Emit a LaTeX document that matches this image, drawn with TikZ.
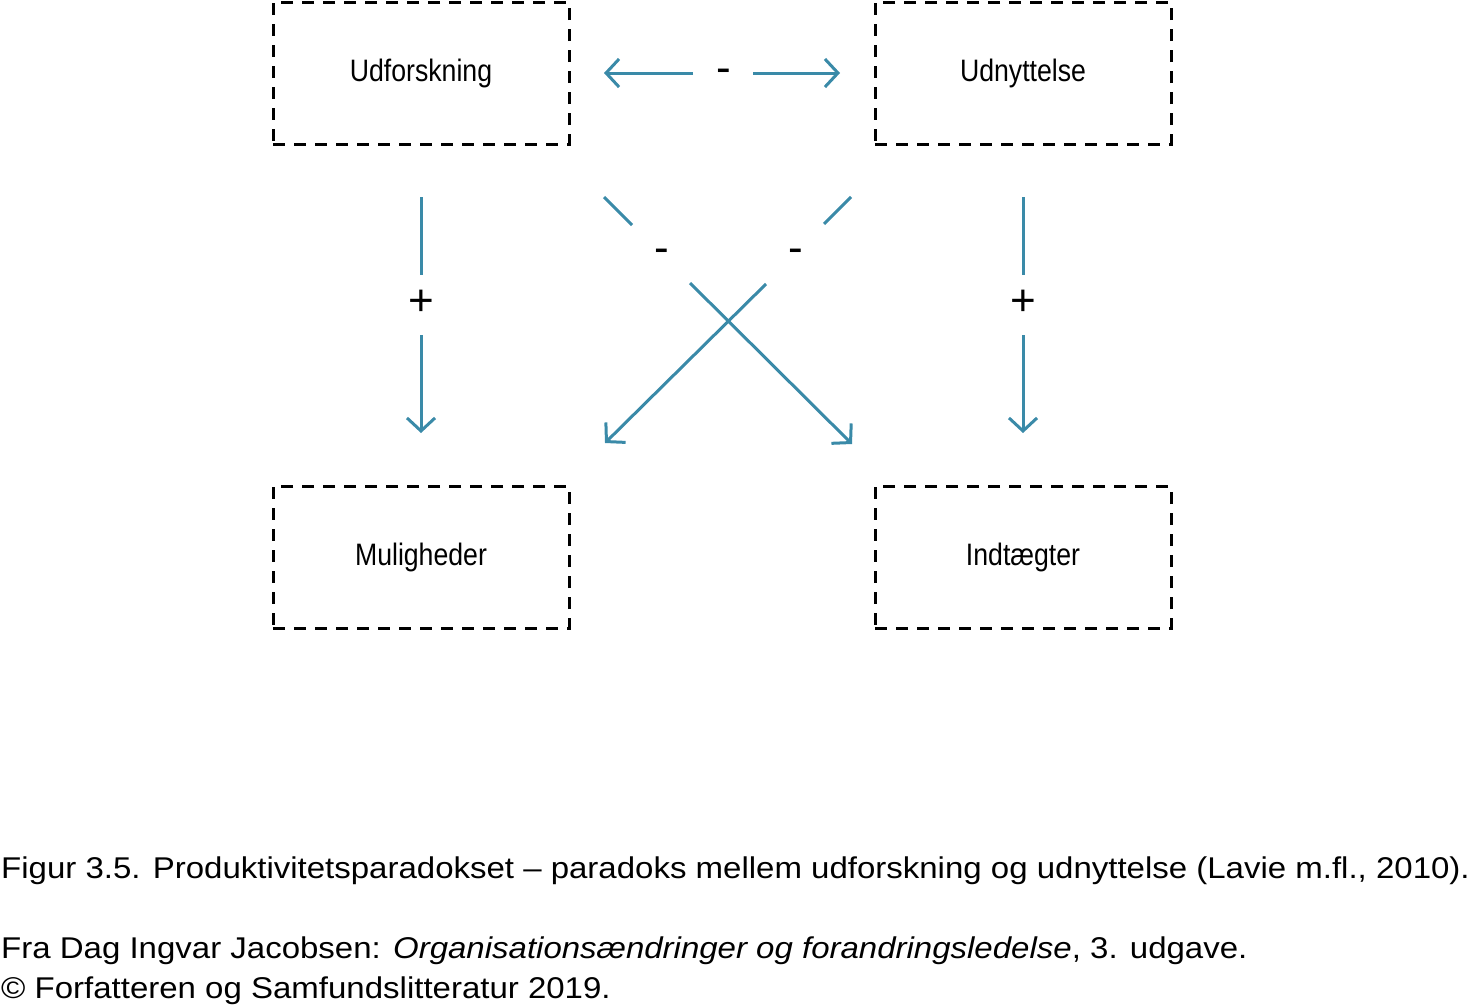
\documentclass[tikz,border=0pt]{standalone}
\usepackage{fontspec}
\setmainfont{Liberation Sans}
\newfontfamily\narrowf[FakeStretch=0.86]{Liberation Sans}
\newfontfamily\widef[FakeStretch=1.1]{Liberation Sans}
\usetikzlibrary{arrows.meta}
\definecolor{teal1}{RGB}{58,138,168}
\begin{document}
\begin{tikzpicture}[x=1pt,y=-1pt,
 box/.style={draw=black,line width=3pt,dash pattern=on 12pt off 9pt,minimum width=296pt,minimum height=142pt,font=\narrowf\fontsize{31}{34}\selectfont,inner sep=0pt},
 con/.style={draw=teal1,line width=3pt},
 arr/.style={con,-{Straight Barb[length=13pt,width=28pt,line width=3pt]}},
 lab/.style={font=\fontsize{44}{46}\selectfont,inner sep=0pt},
 captxt/.style={anchor=base west,inner sep=0pt,font=\widef\fontsize{30}{34}\selectfont}]
\useasboundingbox (0,0) rectangle (1472,1007);
\node[box] (ud) at (421,73) {Udforskning};
\node[box] (un) at (1023,73) {Udnyttelse};
\node[box] (mu) at (421,557) {Muligheder};
\node[box] (in) at (1023,557) {Indtægter};
% horizontal
\node[lab] (h) at (724,76) {-};
\coordinate (h1) at (693,73); \coordinate (h2) at (753,73);
\coordinate (hl) at (604,73); \coordinate (hr) at (840,73);
\draw[arr] (h1) -- (hl);
\draw[arr] (h2) -- (hr);
% verticals
\node[lab] (p1) at (421,303) {+};
\node[lab] (p2) at (1023,303) {+};
\coordinate (a1) at (421,197); \coordinate (a2) at (421,275);
\coordinate (a3) at (421,335); \coordinate (a4) at (421,433);
\draw[con] (a1) -- (a2); \draw[arr] (a3) -- (a4);
\coordinate (b1) at (1023,197); \coordinate (b2) at (1023,275);
\coordinate (b3) at (1023,335); \coordinate (b4) at (1023,433);
\draw[con] (b1) -- (b2); \draw[arr] (b3) -- (b4);
% diagonals
\node[lab] (m1) at (662,256) {-};
\node[lab] (m2) at (796,256) {-};
\coordinate (c1) at (604,197); \coordinate (c2) at (632,225);
\coordinate (c3) at (690,283); \coordinate (c4) at (852,444);
\draw[con] (c1) -- (c2); \draw[arr] (c3) -- (c4);
\coordinate (d1) at (851,197); \coordinate (d2) at (824,224);
\coordinate (d3) at (766,284); \coordinate (d4) at (605,443);
\draw[con] (d1) -- (d2); \draw[arr] (d3) -- (d4);
% caption
\node[captxt] (t1) at (1,878) {Figur 3.5. Produktivitetsparadokset – paradoks mellem udforskning og udnyttelse (Lavie m.fl., 2010).};
\node[captxt] (t2) at (1,958) {Fra Dag Ingvar Jacobsen: \textit{Organisationsændringer og forandringsledelse}, 3. udgave.};
\node[captxt] (t3) at (1,998) {© Forfatteren og Samfundslitteratur 2019.};
\end{tikzpicture}
\end{document}
